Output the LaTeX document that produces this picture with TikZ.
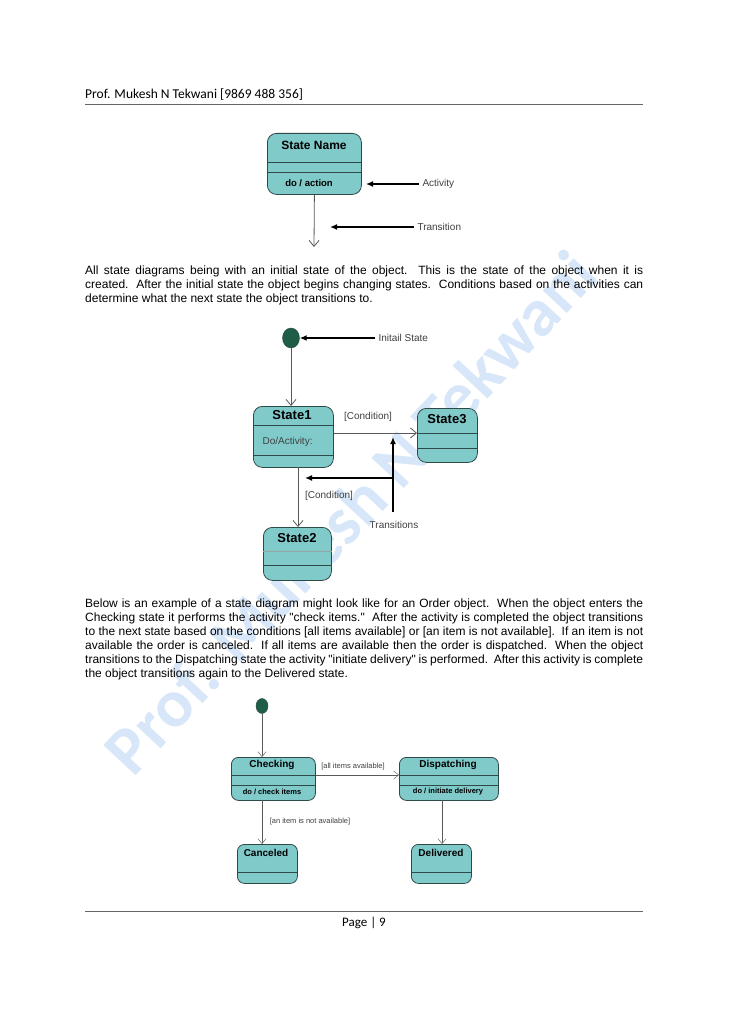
\documentclass[tikz,border=0pt]{standalone}
\usepackage{fontspec}
\setmainfont{Carlito}
\newfontfamily\arial{Liberation Sans}
\usetikzlibrary{arrows.meta,shapes.geometric}
\definecolor{statefill}{HTML}{80CACA}
\definecolor{stateline}{HTML}{2E4A48}
\definecolor{initfill}{HTML}{1E5E46}
\definecolor{markblue}{HTML}{4A8FE0}
\tikzset{
statebox/.style={rectangle, rounded corners=9pt, draw=stateline, fill=statefill, thick, inner sep=0pt, anchor=north west},
initdot/.style={ellipse, draw=stateline, fill=initfill, inner sep=0pt, minimum width=17pt, minimum height=20pt},
stitle/.style={font=\arial\bfseries\fontsize{11}{13}\selectfont},
slabel/.style={font=\arial\fontsize{10}{12}\selectfont, text=black!75},
trans/.style={draw=black!65, thick, -{Straight Barb[length=6pt,width=10pt]}},
pointer/.style={draw=black, line width=1.6pt, -{Latex[length=7pt,width=6pt]}},
para/.style={anchor=north west, text width=558pt, align=justify, inner sep=0pt, font=\arial\fontsize{12}{14}\selectfont},
}
\begin{document}
\begin{tikzpicture}[x=1pt,y=-1pt]
\useasboundingbox[fill=white] (0,0) rectangle (728,1030);
% watermark
\node[rotate=47, opacity=0.22, text=markblue, font=\bfseries\fontsize{68}{68}\selectfont] (wm) at (350,512) {Prof. Mukesh N Tekwani};
% header and footer
\node[anchor=base west, inner sep=0pt, font=\fontsize{13.5}{15}\selectfont] (head) at (85,99) {Prof. Mukesh N Tekwani [9869 488 356]};
\draw[black!60] (85,104) -- (643,104);
\draw[black!60] (85,911) -- (643,911);
\node[anchor=base, inner sep=0pt, font=\fontsize{13}{15}\selectfont] (foot) at (364,926) {Page | 9};

% first picture
\node[statebox, minimum width=94pt, minimum height=61pt] (sn) at (267,133) {};
\draw[stateline, thick] (sn.west |- 0,162) -- (sn.east |- 0,162);
\draw[stateline, thick] (sn.west |- 0,172) -- (sn.east |- 0,172);
\node[stitle, font=\arial\bfseries\fontsize{12}{14}\selectfont] (snt) at (314,145) {State Name};
\node[stitle, font=\arial\bfseries\fontsize{9.5}{11}\selectfont] (sna) at (309,183) {do / action};
\coordinate (snend) at (314,247);
\draw[trans] (sn.south) -- (snend);
\node[slabel, anchor=west] (act) at (419,184) {Activity};
\node[slabel, anchor=west] (tra) at (414,227) {Transition};
\coordinate (acttip) at (366,184);
\coordinate (tratip) at (330,227);
\draw[pointer] (act.west) -- (acttip);
\draw[pointer] (tra.west) -- (tratip);

\node[para] (p1) at (85,266) {All state diagrams being with an initial state of the object.\ \ This is the state of the object when it is\linebreak created.\ \ After the initial state the object begins changing states.\ \ Conditions based on the activities can\linebreak determine what the next state the object transitions to.};

% second picture
\node[initdot] (init1) at (291,338) {};
\node[slabel, anchor=west] (ini) at (375,338) {Initail State};
\draw[pointer] (ini.west) -- (init1.east);
\node[statebox, minimum width=80pt, minimum height=61pt] (s1) at (253,406) {};
\draw[stateline, thick] (s1.west |- 0,425) -- (s1.east |- 0,425);
\draw[stateline, thick] (s1.west |- 0,455) -- (s1.east |- 0,455);
\node[stitle, font=\arial\bfseries\fontsize{13}{15}\selectfont] (s1t) at (292,415) {State1};
\node[slabel, anchor=west] (s1a) at (259,442) {Do/Activity:};
\node[statebox, minimum width=60pt, minimum height=54pt] (s3) at (417,408) {};
\draw[stateline, thick] (s3.west |- 0,433) -- (s3.east |- 0,433);
\draw[stateline, thick] (s3.west |- 0,448) -- (s3.east |- 0,448);
\node[stitle, font=\arial\bfseries\fontsize{13}{15}\selectfont] (s3t) at (447,419) {State3};
\node[statebox, minimum width=68pt, minimum height=53pt] (s2) at (263,527) {};
\draw[stateline!50, thick] (s2.west |- 0,551) -- (s2.east |- 0,551);
\draw[stateline, thick] (s2.west |- 0,565) -- (s2.east |- 0,565);
\node[stitle, font=\arial\bfseries\fontsize{13}{15}\selectfont] (s2t) at (297,538) {State2};
\draw[trans] (init1.south) -- (init1.south |- s1.north);
\draw[trans] (s1.east |- 0,433) -- (s3.west |- 0,433);
\node[slabel] (c1) at (368,417) {[Condition]};
\draw[trans] (298,467) -- (298,527);
\node[slabel] (c2) at (329,496) {[Condition]};
\coordinate (tup) at (393,437);
\coordinate (tleft) at (305,478);
\node[slabel] (trs) at (394,525) {Transitions};
\draw[pointer] (393,512) -- (tup);
\draw[pointer] (393,478) -- (tleft);

\node[para] (p2) at (85,599) {Below is an example of a state diagram might look like for an Order object.\ \ When the object enters the Checking state it performs the activity "check items."\ \ After the activity is completed the object transitions to the next state based on the conditions [all items available] or [an item is not available].\ \ If an item is not available the order is canceled.\ \ If all items are available then the order is dispatched.\ \ When the object transitions to the Dispatching state the activity "initiate delivery" is performed.\ \ After this activity is complete the object transitions again to the Delivered state.};

% third picture
\node[initdot, minimum width=12pt, minimum height=15pt] (init2) at (262,706) {};
\node[statebox, rounded corners=7pt, minimum width=84pt, minimum height=43pt] (chk) at (231,757) {};
\draw[stateline, thick] (chk.west |- 0,775) -- (chk.east |- 0,775);
\draw[stateline, thick] (chk.west |- 0,785) -- (chk.east |- 0,785);
\node[stitle, font=\arial\bfseries\fontsize{10}{12}\selectfont] (chkt) at (272,765) {Checking};
\node[stitle, font=\arial\bfseries\fontsize{7.5}{9}\selectfont] (chka) at (272,792) {do / check items};
\node[statebox, rounded corners=7pt, minimum width=99pt, minimum height=43pt] (dsp) at (399,757) {};
\draw[stateline, thick] (dsp.west |- 0,775) -- (dsp.east |- 0,775);
\draw[stateline, thick] (dsp.west |- 0,785) -- (dsp.east |- 0,785);
\node[stitle, font=\arial\bfseries\fontsize{10}{12}\selectfont] (dspt) at (448,765) {Dispatching};
\node[stitle, font=\arial\bfseries\fontsize{7.5}{9}\selectfont] (dspa) at (448,792) {do / initiate delivery};
\node[statebox, rounded corners=7pt, minimum width=60pt, minimum height=39pt] (can) at (237,844) {};
\draw[stateline, thick] (can.west |- 0,872) -- (can.east |- 0,872);
\node[stitle, font=\arial\bfseries\fontsize{10}{12}\selectfont] (cant) at (266,853) {Canceled};
\node[statebox, rounded corners=7pt, minimum width=60pt, minimum height=39pt] (dlv) at (411,844) {};
\draw[stateline, thick] (dlv.west |- 0,872) -- (dlv.east |- 0,872);
\node[stitle, font=\arial\bfseries\fontsize{10}{12}\selectfont] (dlvt) at (441,853) {Delivered};
\tikzset{trans/.append style={thin, -{Straight Barb[length=5pt,width=8pt]}}}
\draw[trans] (init2.south) -- (init2.south |- chk.north);
\draw[trans] (chk.east |- 0,775) -- (dsp.west |- 0,775);
\node[slabel, font=\arial\fontsize{7.5}{9}\selectfont] (cav) at (353,767) {[all items available]};
\draw[trans] (262,800) -- (262,844);
\node[slabel, font=\arial\fontsize{7.5}{9}\selectfont] (cna) at (310,822) {[an item is not available]};
\draw[trans] (442,800) -- (442,844);
\end{tikzpicture}
\end{document}
